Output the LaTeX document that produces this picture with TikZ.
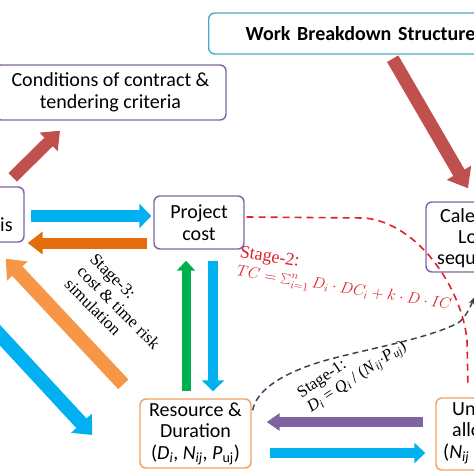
\RequirePackage{fix-cm}
\documentclass[tikz,border=0pt]{standalone}
\usepackage{fontspec}
\setmainfont{Carlito}
\newfontfamily\tnr{Liberation Serif}
\usetikzlibrary{arrows.meta,calc}
\definecolor{redb}{HTML}{C0504D}
\definecolor{blueA}{HTML}{00B0F0}
\definecolor{orgD}{HTML}{E46C0A}
\definecolor{orgL}{HTML}{F79646}
\definecolor{grn}{HTML}{00B050}
\definecolor{purp}{HTML}{8064A2}
\definecolor{tealB}{HTML}{4BACC6}
\definecolor{orgBox}{HTML}{F0A060}
\definecolor{redD}{HTML}{E0202A}
\definecolor{darkD}{HTML}{3A4658}
\newcommand{\bxfont}{\fontsize{20}{21.5}\selectfont}
\begin{document}
\begin{tikzpicture}[x=1pt,y=-1pt,
  bx/.style={draw, rounded corners=6pt, line width=1.4pt, fill=white, inner sep=0pt, align=center, font=\bxfont},
  txt/.style={inner sep=0pt, font=\bxfont},
  blockarrow/.style n args={3}{line width=#1, -{Triangle[width=#2,length=#3]}},
  stagetxt/.style={inner sep=0pt, align=left, font=\tnr\fontsize{17}{18}\selectfont},
  reddash/.style={draw=redD, line width=1.6pt, dash pattern=on 7pt off 5pt},
  darkdash/.style={draw=darkD, line width=1.5pt, dash pattern=on 6pt off 4pt, -{Stealth[length=7pt,width=6pt]}}
]
\useasboundingbox (0,0) rectangle (474,474);
\fill[white] (0,0) rectangle (474,474);
\clip (0,0) rectangle (474,474);

% boxes
\node[bx, draw=tealB, minimum height=41pt, text width=240pt, align=left, inner xsep=37pt, font=\bfseries\fontsize{20}{22}\selectfont, anchor=west] (wbs) at (208,33.5) {Work Breakdown Structure};
\node[bx, draw=purp, minimum width=231pt, minimum height=55pt] (cc) at (110.5,92.5) {Conditions of contract \&\\tendering criteria};
\node[bx, draw=purp, minimum width=104pt, minimum height=55pt] (an) at (-28,214.5) {};
\node[txt, anchor=base west] (ant) at (0,231) {is};
\node[bx, draw=purp, minimum width=90pt, minimum height=53pt] (pc) at (199,222.5) {Project\\cost};
\node[bx, draw=purp, minimum width=134pt, minimum height=70pt] (cal) at (493,237) {};
\node[txt, anchor=base west] (calt1) at (440,222) {Cale};
\node[txt, anchor=base west] (calt2) at (458,243) {Lo};
\node[txt, anchor=base west] (calt3) at (437,264) {sequ};
\node[bx, draw=orgBox, minimum width=111pt, minimum height=69pt] (rd) at (195.5,433.5) {Resource \&\\Duration\\(\textit{D}\textsubscript{\textit{i}}, \textit{N}\textsubscript{\textit{ij}}, \textit{P}\textsubscript{uj})};
\node[bx, draw=orgBox, minimum width=128pt, minimum height=72pt] (ua) at (500,434) {};
\node[txt, anchor=base west] (uat1) at (452,415) {Un};
\node[txt, anchor=base west] (uat2) at (452,436) {allo};
\node[txt, anchor=base west] (uat3) at (443,458) {(\textit{N}\textsubscript{\textit{ij}}};

% block arrows
\draw[blockarrow={12pt}{24pt}{12pt}, draw=blueA] ($(an.east)+(6,1.5)$) -- ($(pc.west)+(-2,-6.5)$);
\draw[blockarrow={11pt}{22pt}{15pt}, draw=orgD] ($(pc.west)+(-6,20.5)$) -- ($(an.east)+(3,28.5)$);
\draw[blockarrow={12pt}{25pt}{16pt}, draw=redb] ($(an.north east)+(-12,-9)$) -- ($(cc.south)+(-50.5,10)$);
\draw[blockarrow={13pt}{27pt}{18pt}, draw=redb] ($(wbs.south)+(27,4)$) -- ($(cal.north)+(-25,-13)$);
\draw[blockarrow={14pt}{27pt}{17pt}, draw=orgL] ($(rd.north west)+(-16,-14)$) -- ($(an.south east)+(-19,16)$);
\coordinate (bdstart) at (-20,313.6);
\draw[blockarrow={14pt}{27pt}{16pt}, draw=blueA] (bdstart) -- ($(rd.west)+(-47,1.5)$);
\draw[blockarrow={9pt}{18pt}{10pt}, draw=grn] ($(rd.north)+(-9.5,-7)$) -- ($(pc.south)+(-13,11)$);
\draw[blockarrow={10pt}{22pt}{11pt}, draw=blueA] ($(pc.south)+(14,11)$) -- ($(rd.north)+(17.5,-7)$);
\draw[blockarrow={10pt}{17pt}{13pt}, draw=purp] ($(ua.west)+(-12,-12)$) -- ($(rd.east)+(15,-11.5)$);
\draw[blockarrow={10pt}{20pt}{11pt}, draw=blueA] ($(rd.east)+(18,19.5)$) -- ($(ua.west)+(-10,19)$);

% dashed connectors
\draw[reddash] ($(pc.east)+(2,-5.5)$) -- (365,218) .. controls (420,224) and (462,290) .. (467,340) -- ($(ua.north)+(-32,-10)$);
\draw[darkdash] ($(rd.north east)+(1,12)$) .. controls (256,392) and (278,375) .. (320,362) .. controls (360,350) and (425,340) .. (458,323) .. controls (465,318) and (470,308) .. ($(cal.south)+(-19,25)$);

% stage labels
\node[stagetxt, text=redD, anchor=north west, rotate=-9, font=\tnr\fontsize{18}{19}\selectfont] (s2) at (241,245) {Stage-2:\\\fontsize{15.8}{18}\selectfont$TC=\sum_{i=1}^{n}D_i\cdot DC_i+k\cdot D\cdot IC$};
\node[stagetxt, anchor=north west, rotate=-45] (s3) at (97,252) {Stage-3:\\cost \& time risk\\simulation};
\node[stagetxt, anchor=south west, rotate=34, font=\tnr\fontsize{16.5}{17.5}\selectfont] (s1) at (314,417) {Stage-1:\\\textit{D}\textsubscript{\textit{i}} = \textit{Q}\textsubscript{\textit{i}} / (\textit{N}\textsubscript{\textit{ij}}$\cdot$\textit{P}\textsubscript{\textit{uj}})};
\end{tikzpicture}
\end{document}
